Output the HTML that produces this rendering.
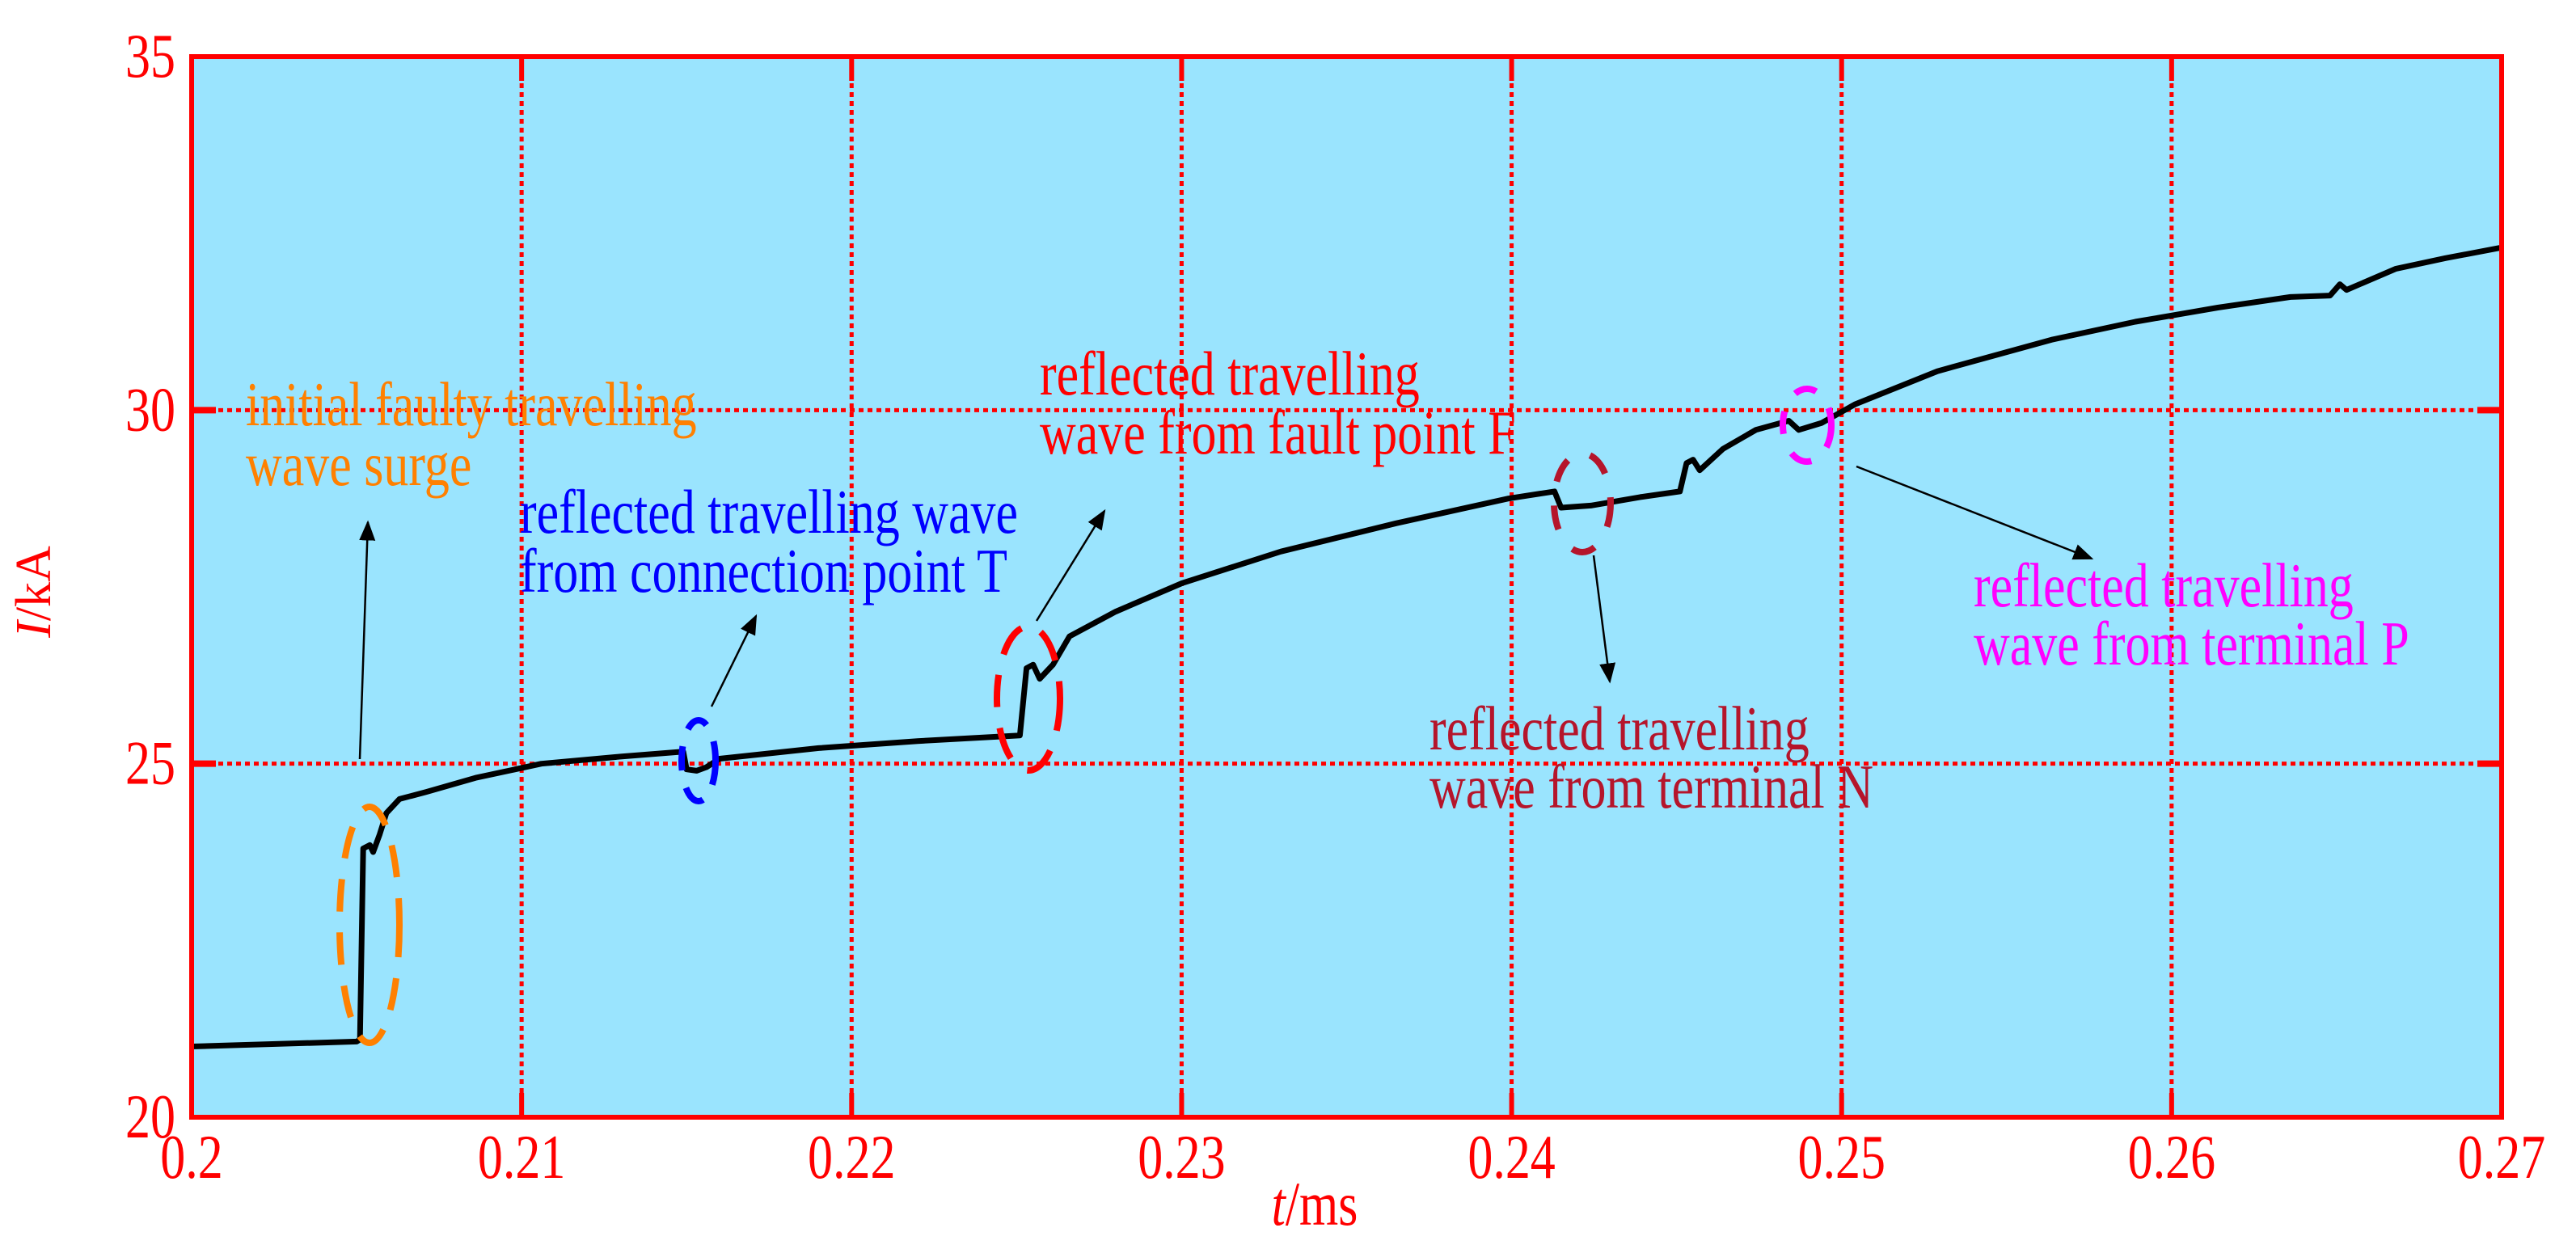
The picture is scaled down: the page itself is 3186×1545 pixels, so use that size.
<!DOCTYPE html>
<html><head><meta charset="utf-8"><style>
html,body{margin:0;padding:0;background:#fff;}
svg{display:block;font-family:"Liberation Serif",serif;}
</style></head><body>
<svg id="chart" width="3186" height="1545" viewBox="0 0 3186 1545" xmlns="http://www.w3.org/2000/svg">
<rect x="237" y="70" width="2857" height="1312" fill="#9ae4fe"/>
<g id="grid"></g>
<g id="ticks"></g>
<path id="series" fill="none" stroke="#000" stroke-width="7" stroke-linejoin="round"/>
<rect x="237" y="70" width="2857" height="1312" fill="none" stroke="#f00" stroke-width="6"/>
<g id="xlabels" fill="#f00" font-size="62" text-anchor="middle"></g>
<g id="ylabels" fill="#f00" font-size="62" text-anchor="end"></g>
<text class="st" x="1626" y="1515" fill="#f00" font-size="62" text-anchor="middle"><tspan font-style="italic">t</tspan>/ms</text>
<text transform="translate(62,732) rotate(-90)" fill="#f00" font-size="62" text-anchor="middle"><tspan font-style="italic">I</tspan>/kA</text>
<defs><marker id="ah" viewBox="0 0 10 10" refX="9" refY="5" markerWidth="10" markerHeight="10" orient="auto"><path d="M0,1 L10,5 L0,9 Z" fill="#000"/></marker></defs>
<g stroke-width="8" fill="none" stroke-dasharray="40 26">
<ellipse cx="457" cy="1144" rx="37" ry="146" stroke="#ff8000"/>
<ellipse cx="864" cy="941" rx="21" ry="50" stroke="#0000ff" stroke-dasharray="30 22"/>
<ellipse cx="1272" cy="864" rx="39" ry="89" stroke="#ff0000"/>
<ellipse cx="1957" cy="622" rx="35" ry="61" stroke="#b5152b" stroke-dasharray="30 30"/>
<ellipse cx="2235" cy="526" rx="30" ry="45" stroke="#ff00ff" stroke-dasharray="28 26"/>
</g>
<g stroke="#000" stroke-width="2.5">
<line x1="445" y1="939" x2="455" y2="646" marker-end="url(#ah)"/>
<line x1="880" y1="874" x2="935" y2="762" marker-end="url(#ah)"/>
<line x1="1282" y1="768" x2="1366" y2="632" marker-end="url(#ah)"/>
<line x1="1971" y1="687" x2="1991" y2="843" marker-end="url(#ah)"/>
<line x1="2296" y1="577" x2="2587" y2="691" marker-end="url(#ah)"/>
</g>
<g font-size="62">
<text class="st" fill="#ff8000"><tspan x="304" y="526">initial faulty travelling</tspan><tspan x="304" y="600">wave surge</tspan></text>
<text class="st" fill="#0000ff"><tspan x="643" y="659">reflected travelling wave</tspan><tspan x="643" y="732">from connection point T</tspan></text>
<text class="st" fill="#ff0000"><tspan x="1286" y="488">reflected travelling</tspan><tspan x="1286" y="561">wave from fault point F</tspan></text>
<text class="st" fill="#b5152b"><tspan x="1768" y="927">reflected travelling</tspan><tspan x="1768" y="999">wave from terminal N</tspan></text>
<text class="st" fill="#ff00ff"><tspan x="2441" y="750">reflected travelling</tspan><tspan x="2441" y="822">wave from terminal P</tspan></text>
</g>
</svg>
<script>
const xTicks = [0.2,0.21,0.22,0.23,0.24,0.25,0.26,0.27];
const xTickLabels = ["0.2","0.21","0.22","0.23","0.24","0.25","0.26","0.27"];
const yTicks = [20,25,30,35];
const yTickLabels = ["20","25","30","35"];
const times = [0.2000,0.2050,0.2051,0.2052,0.2054,0.2055,0.2057,0.2059,0.2063,0.2071,0.2086,0.2106,0.2130,0.2149,0.2150,0.2153,0.2156,0.2160,0.2190,0.2220,0.2251,0.2253,0.2255,0.2257,0.2261,0.2266,0.2280,0.2300,0.2330,0.2365,0.2399,0.2413,0.2415,0.2424,0.2439,0.2451,0.2453,0.2455,0.2457,0.2464,0.2474,0.2484,0.2487,0.2494,0.2504,0.2529,0.2564,0.2589,0.2614,0.2636,0.2648,0.2651,0.2653,0.2668,0.2683,0.2700];
const current = [21.0,21.07,21.1,23.8,23.85,23.75,24.0,24.3,24.5,24.6,24.8,25.0,25.1,25.17,24.92,24.9,24.95,25.07,25.22,25.32,25.4,26.35,26.4,26.2,26.4,26.8,27.15,27.55,28.0,28.4,28.75,28.85,28.62,28.65,28.77,28.85,29.25,29.3,29.15,29.45,29.72,29.85,29.72,29.82,30.08,30.55,31.0,31.25,31.45,31.6,31.62,31.78,31.7,32.0,32.15,32.3];
const L=237,R=3094,T=70,B=1382;
function X(t){return L+(t-0.2)/0.07*(R-L);}
function Y(v){return B-(v-20)/15*(B-T);}
const NS="http://www.w3.org/2000/svg";
const grid=document.getElementById('grid'), ticks=document.getElementById('ticks');
function ln(p,x1,y1,x2,y2,attrs){const e=document.createElementNS(NS,'line');e.setAttribute('x1',x1);e.setAttribute('y1',y1);e.setAttribute('x2',x2);e.setAttribute('y2',y2);e.setAttribute('stroke','#f00');for(const k in attrs)e.setAttribute(k,attrs[k]);p.appendChild(e);return e;}
xTicks.forEach((t,i)=>{
  const x=X(t);
  if(i>0&&i<xTicks.length-1){
    const g=ln(grid,x,T,x,B,{'stroke-width':5,'stroke-dasharray':'6 5'});
    
    
    const a=ln(ticks,x,B,x,B-30,{'stroke-width':6});
    
    
    const b=ln(ticks,x,T,x,T+30,{'stroke-width':6});
    
    
  }
  const tx=document.createElementNS(NS,'text');
  tx.setAttribute('x',x);tx.setAttribute('y',1457);tx.textContent=xTickLabels[i];
  tx.setAttribute('class','st');
  
  
  document.getElementById('xlabels').appendChild(tx);
});
yTicks.forEach((v,i)=>{
  const y=Y(v);
  if(i>0&&i<yTicks.length-1){
    const g=ln(grid,L,y,R,y,{'stroke-width':5,'stroke-dasharray':'6 5'});
    
    
    const a=ln(ticks,L,y,L+30,y,{'stroke-width':8});
    
    
    const b=ln(ticks,R,y,R-30,y,{'stroke-width':8});
    
    
  }
  const tx=document.createElementNS(NS,'text');
  tx.setAttribute('x',217);tx.setAttribute('y',y+25);tx.textContent=yTickLabels[i];
  tx.setAttribute('class','st');
  
  
  document.getElementById('ylabels').appendChild(tx);
});
document.getElementById('series').setAttribute('d',times.map((t,i)=>(i?'L':'M')+X(t).toFixed(1)+','+Y(current[i]).toFixed(1)).join(' '));
// vertical stretch of text to match reference glyph proportions
const S=1.25;
document.querySelectorAll('text.st').forEach(tx=>{
  const spans=[...tx.querySelectorAll('tspan[y]')];
  const y0=parseFloat(spans.length?spans[0].getAttribute('y'):tx.getAttribute('y'));
  spans.forEach(sp=>{const y=parseFloat(sp.getAttribute('y'));sp.setAttribute('y',(y0+(y-y0)/S).toFixed(1));});
  tx.setAttribute('transform','translate(0,'+(y0*(1-S)).toFixed(1)+') scale(1,'+S+')');
});
</script>
</body></html>
